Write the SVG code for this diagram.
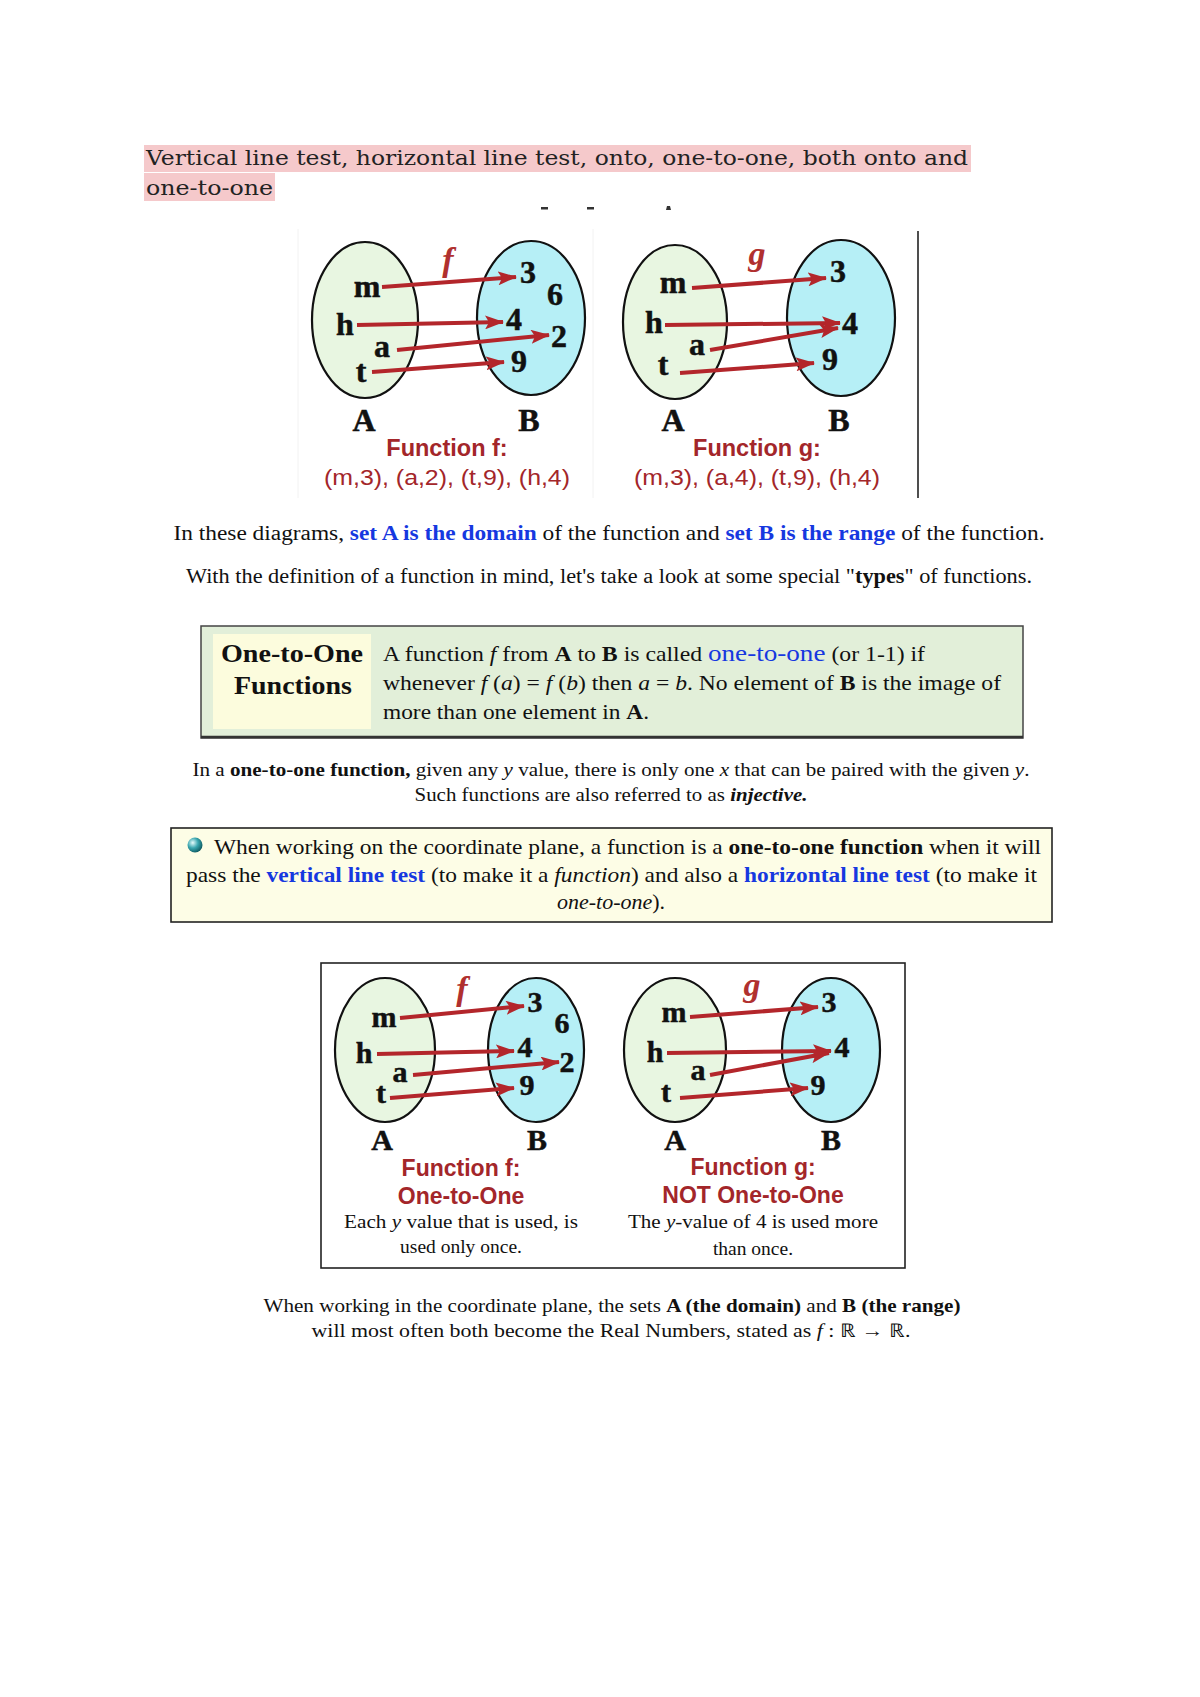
<svg xmlns="http://www.w3.org/2000/svg" width="1200" height="1697" viewBox="0 0 1200 1697">
<style>
.ser{font-family:"Liberation Serif","Times New Roman",serif;fill:#111}
.lbl{font-family:"Liberation Serif","Times New Roman",serif;font-weight:bold;font-size:32px;fill:#111;stroke:#111;stroke-width:0.5;text-anchor:middle}
.lbs{font-size:30px}
.fn{font-family:"Liberation Serif",serif;font-weight:bold;font-style:italic;font-size:34px;fill:#b0302f;text-anchor:middle}
.red{font-family:"Liberation Sans",Arial,sans-serif;fill:#a3262a;text-anchor:middle}
.ea{fill:#e8f6e1;stroke:#111;stroke-width:2.2}
.eb{fill:#b6eff6;stroke:#111;stroke-width:2.2}
.arr{stroke:#b3262b;stroke-width:4;fill:none;marker-end:url(#ah)}
.blue{fill:#1638e0}
.b{font-weight:bold}
.i{font-style:italic}
</style>
<defs>
<marker id="ah" markerUnits="userSpaceOnUse" markerWidth="20" markerHeight="14" refX="18" refY="7" orient="auto">
<path d="M0,0 L19,7 L0,14 L4,7 z" fill="#b3262b"/>
</marker>
<radialGradient id="ball" cx="0.35" cy="0.35" r="0.7">
<stop offset="0" stop-color="#e6fbfb"/>
<stop offset="0.5" stop-color="#3aa7b0"/>
<stop offset="1" stop-color="#0d5960"/>
</radialGradient>
</defs>
<rect width="1200" height="1697" fill="#fff"/>

<g id="title">
<rect x="144" y="145" width="827" height="27" fill="#f5c9cb"/>
<rect x="144" y="173" width="131" height="28" fill="#f5c9cb"/>
<text x="146" y="165" font-family="DejaVu Serif, serif" font-size="20" fill="#222" textLength="822" lengthAdjust="spacingAndGlyphs">Vertical line test, horizontal line test, onto, one-to-one, both onto and</text>
<text x="146" y="195" font-family="DejaVu Serif, serif" font-size="20" fill="#222" textLength="127" lengthAdjust="spacingAndGlyphs">one-to-one</text>
<rect x="541" y="207" width="7" height="2.5" fill="#333"/>
<rect x="587" y="207" width="7" height="2.5" fill="#333"/>
<path d="M667,206 L670,206 L671,210 L666,210 z" fill="#333"/>
</g>

<g id="top-diagram">
<line x1="298" y1="229" x2="298" y2="498" stroke="#f2f2f2" stroke-width="1"/>
<line x1="593" y1="229" x2="593" y2="498" stroke="#f2f2f2" stroke-width="1"/>
<line x1="918" y1="231" x2="918" y2="498" stroke="#222" stroke-width="1.6"/>
<g id="top-f-A"><ellipse class="ea" cx="365" cy="320" rx="53" ry="78"/>
<text class="lbl" x="367" y="297">m</text><text class="lbl" x="345" y="335">h</text><text class="lbl" x="382" y="357">a</text><text class="lbl" x="361" y="382">t</text></g>
<g id="top-f-B"><ellipse class="eb" cx="531" cy="318" rx="54" ry="77"/>
<text class="lbl" x="528" y="283">3</text><text class="lbl" x="555" y="305">6</text><text class="lbl" x="514" y="330">4</text><text class="lbl" x="559" y="347">2</text><text class="lbl" x="519" y="372">9</text></g>
<text class="fn" x="448" y="271">f</text>
<text class="lbl" x="364" y="431">A</text><text class="lbl" x="529" y="431">B</text>
<text class="red" x="447" y="456" font-size="23.5" font-weight="bold">Function f:</text>
<text class="red" x="447" y="485" font-size="22" textLength="246" lengthAdjust="spacingAndGlyphs">(m,3), (a,2), (t,9), (h,4)</text>

<g id="top-g-A"><ellipse class="ea" cx="675" cy="322" rx="52" ry="77"/>
<text class="lbl" x="673" y="293">m</text><text class="lbl" x="654" y="333">h</text><text class="lbl" x="697" y="355">a</text><text class="lbl" x="663" y="375">t</text></g>
<g id="top-g-B"><ellipse class="eb" cx="841" cy="318" rx="54" ry="78"/>
<text class="lbl" x="838" y="282">3</text><text class="lbl" x="850" y="334">4</text><text class="lbl" x="830" y="370">9</text></g>
<text class="fn" x="757" y="265">g</text>
<text class="lbl" x="673" y="431">A</text><text class="lbl" x="839" y="431">B</text>
<text class="red" x="757" y="456" font-size="23.5" font-weight="bold">Function g:</text>
<text class="red" x="757" y="485" font-size="22" textLength="246" lengthAdjust="spacingAndGlyphs">(m,3), (a,4), (t,9), (h,4)</text>
</g>

<g id="text1">
<text class="ser" x="609" y="540" font-size="20" text-anchor="middle" textLength="871" lengthAdjust="spacingAndGlyphs">In these diagrams, <tspan class="blue b">set A is the domain</tspan> of the function and <tspan class="blue b">set B is the range</tspan> of the function.</text>
<text class="ser" x="609" y="583" font-size="20" text-anchor="middle" textLength="846" lengthAdjust="spacingAndGlyphs">With the definition of a function in mind, let's take a look at some special "<tspan class="b">types</tspan>" of functions.</text>
</g>

<g id="box-one-to-one">
<rect x="201" y="626" width="822" height="112" fill="#e2efd9" stroke="#444" stroke-width="1.5"/>
<line x1="201" y1="737" x2="1023" y2="737" stroke="#333" stroke-width="2.5"/>
<rect x="213" y="634" width="158" height="95" fill="#fcfcdd"/>
<text class="ser b" x="292" y="662" font-size="26" text-anchor="middle" textLength="142" lengthAdjust="spacingAndGlyphs">One-to-One</text>
<text class="ser b" x="293" y="694" font-size="26" text-anchor="middle" textLength="118" lengthAdjust="spacingAndGlyphs">Functions</text>
<text class="ser" x="383" y="661" font-size="21" textLength="542" lengthAdjust="spacingAndGlyphs">A function <tspan class="i">f</tspan> from <tspan class="b">A</tspan> to <tspan class="b">B</tspan> is called <tspan class="blue" font-size="24">one-to-one</tspan> (or 1-1) if</text>
<text class="ser" x="383" y="690" font-size="21" textLength="618" lengthAdjust="spacingAndGlyphs">whenever <tspan class="i">f</tspan> (<tspan class="i">a</tspan>) = <tspan class="i">f</tspan> (<tspan class="i">b</tspan>) then <tspan class="i">a</tspan> = <tspan class="i">b</tspan>. No element of <tspan class="b">B</tspan> is the image of</text>
<text class="ser" x="383" y="719" font-size="21" textLength="266" lengthAdjust="spacingAndGlyphs">more than one element in <tspan class="b">A</tspan>.</text>
</g>

<g id="text2">
<text class="ser" x="611" y="776" font-size="19.5" text-anchor="middle" textLength="837" lengthAdjust="spacingAndGlyphs">In a <tspan class="b">one-to-one function,</tspan> given any <tspan class="i">y</tspan> value, there is only one <tspan class="i">x</tspan> that can be paired with the given <tspan class="i">y</tspan>.</text>
<text class="ser" x="611" y="801" font-size="19.5" text-anchor="middle" textLength="393" lengthAdjust="spacingAndGlyphs">Such functions are also referred to as <tspan class="b i">injective.</tspan></text>
</g>

<g id="box-line-test">
<rect x="171" y="828" width="881" height="94" fill="#fdfde6" stroke="#222" stroke-width="1.6"/>
<circle cx="195" cy="845" r="7.5" fill="url(#ball)"/>
<text class="ser" x="214" y="854" font-size="22" textLength="827" lengthAdjust="spacingAndGlyphs">When working on the coordinate plane, a function is a <tspan class="b">one-to-one function</tspan> when it will</text>
<text class="ser" x="186" y="882" font-size="22" textLength="851" lengthAdjust="spacingAndGlyphs">pass the <tspan class="blue b">vertical line test</tspan> (to make it a <tspan class="i">function</tspan>) and also a <tspan class="blue b">horizontal line test</tspan> (to make it</text>
<text class="ser" x="611" y="909" font-size="22" text-anchor="middle"><tspan class="i">one-to-one</tspan>).</text>
</g>

<g id="bottom-diagram">
<rect x="321" y="963" width="584" height="305" fill="#fff" stroke="#222" stroke-width="1.6"/>
<g id="bot-f-A"><ellipse class="ea" cx="385" cy="1050" rx="50" ry="72"/>
<text class="lbl lbs" x="384" y="1027">m</text><text class="lbl lbs" x="364" y="1063">h</text><text class="lbl lbs" x="400" y="1082">a</text><text class="lbl lbs" x="381" y="1103">t</text></g>
<g id="bot-f-B"><ellipse class="eb" cx="536" cy="1050" rx="48" ry="72"/>
<text class="lbl lbs" x="535" y="1012">3</text><text class="lbl lbs" x="562" y="1033">6</text><text class="lbl lbs" x="525" y="1057">4</text><text class="lbl lbs" x="567" y="1072">2</text><text class="lbl lbs" x="527" y="1095">9</text></g>
<text class="fn" x="462" y="1000" font-size="32">f</text>
<text class="lbl lbs" x="382" y="1150">A</text><text class="lbl lbs" x="537" y="1150">B</text>
<text class="red" x="461" y="1176" font-size="23" font-weight="bold">Function f:</text>
<text class="red" x="461" y="1204" font-size="23" font-weight="bold">One-to-One</text>
<text class="ser" x="461" y="1228" font-size="19.5" text-anchor="middle" textLength="234" lengthAdjust="spacingAndGlyphs">Each <tspan class="i">y</tspan> value that is used, is</text>
<text class="ser" x="461" y="1253" font-size="19.5" text-anchor="middle">used only once.</text>

<g id="bot-g-A"><ellipse class="ea" cx="675" cy="1050" rx="51" ry="72"/>
<text class="lbl lbs" x="674" y="1022">m</text><text class="lbl lbs" x="655" y="1062">h</text><text class="lbl lbs" x="698" y="1080">a</text><text class="lbl lbs" x="666" y="1102">t</text></g>
<g id="bot-g-B"><ellipse class="eb" cx="831" cy="1050" rx="49" ry="72"/>
<text class="lbl lbs" x="829" y="1012">3</text><text class="lbl lbs" x="842" y="1057">4</text><text class="lbl lbs" x="818" y="1095">9</text></g>
<text class="fn" x="752" y="996" font-size="32">g</text>
<text class="lbl lbs" x="675" y="1150">A</text><text class="lbl lbs" x="831" y="1150">B</text>
<text class="red" x="753" y="1175" font-size="23" font-weight="bold">Function g:</text>
<text class="red" x="753" y="1203" font-size="23" font-weight="bold">NOT One-to-One</text>
<text class="ser" x="753" y="1228" font-size="19.5" text-anchor="middle" textLength="250" lengthAdjust="spacingAndGlyphs">The <tspan class="i">y</tspan>-value of 4 is used more</text>
<text class="ser" x="753" y="1255" font-size="19.5" text-anchor="middle">than once.</text>
</g>

<g id="connectors">
<line class="arr" x1="382" y1="287" x2="516" y2="277"/>
<line class="arr" x1="357" y1="325" x2="503" y2="322"/>
<line class="arr" x1="397" y1="350" x2="549" y2="335"/>
<line class="arr" x1="372" y1="372" x2="504" y2="362"/>
<line class="arr" x1="692" y1="288" x2="826" y2="278"/>
<line class="arr" x1="665" y1="325" x2="840" y2="323"/>
<line class="arr" x1="710" y1="350" x2="838" y2="328"/>
<line class="arr" x1="680" y1="373" x2="814" y2="363"/>
<line class="arr" x1="400" y1="1018" x2="524" y2="1006"/>
<line class="arr" x1="377" y1="1054" x2="514" y2="1051"/>
<line class="arr" x1="413" y1="1075" x2="559" y2="1062"/>
<line class="arr" x1="390" y1="1098" x2="514" y2="1088"/>
<line class="arr" x1="690" y1="1017" x2="818" y2="1007"/>
<line class="arr" x1="667" y1="1053" x2="831" y2="1051"/>
<line class="arr" x1="710" y1="1075" x2="829" y2="1053"/>
<line class="arr" x1="680" y1="1098" x2="808" y2="1088"/>
</g>

<g id="text3">
<text class="ser" x="612" y="1312" font-size="19" text-anchor="middle" textLength="697" lengthAdjust="spacingAndGlyphs">When working in the coordinate plane, the sets <tspan class="b">A (the domain)</tspan> and <tspan class="b">B (the range)</tspan></text>
<text class="ser" x="611" y="1337" font-size="19" text-anchor="middle" textLength="599" lengthAdjust="spacingAndGlyphs">will most often both become the Real Numbers, stated as  <tspan class="i">f</tspan> : ℝ → ℝ.</text>
</g>
</svg>
